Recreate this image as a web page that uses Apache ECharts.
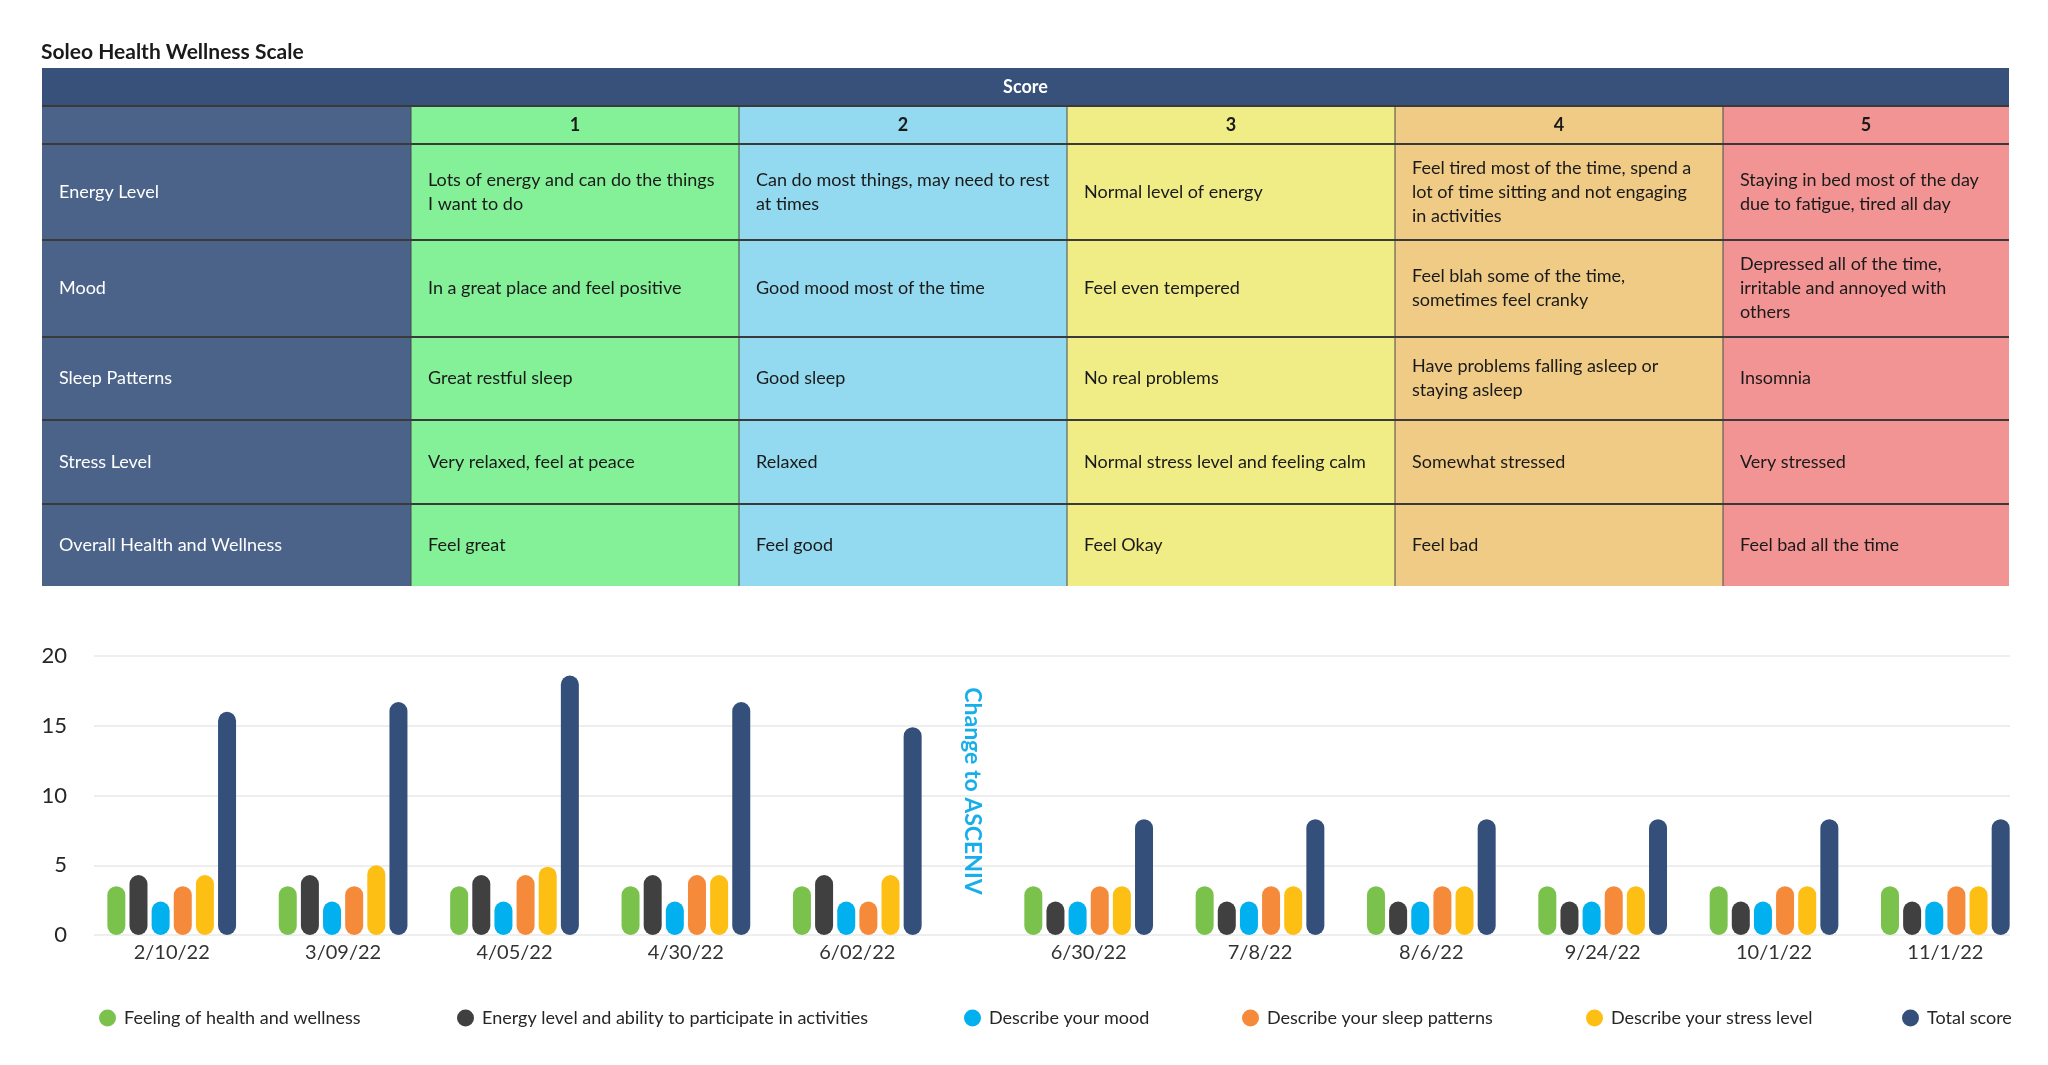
<!DOCTYPE html>
<html>
<head>
<meta charset="utf-8">
<title>Soleo Health Wellness Scale</title>
<script src="https://cdn.jsdelivr.net/npm/echarts@6/dist/echarts.min.js"></script>
<style>
  html, body { margin: 0; padding: 0; background: #fff; }
  #main { width: 2048px; height: 1065px; }
</style>
</head>
<body>
<div id="main"></div>
<script>
// ---- data ----
var dates = ['2/10/22', '3/09/22', '4/05/22', '4/30/22', '6/02/22',
             '6/30/22', '7/8/22', '8/6/22', '9/24/22', '10/1/22', '11/1/22'];
var changeAt = 5;   // first date after the switch
var changeLabel = 'Change to ASCENIV';

var health = [3.5, 3.5, 3.5, 3.5, 3.5, 3.5, 3.5, 3.5, 3.5, 3.5, 3.5];
var energy = [4.3, 4.3, 4.3, 4.3, 4.3, 2.4, 2.4, 2.4, 2.4, 2.4, 2.4];
var mood   = [2.4, 2.4, 2.4, 2.4, 2.4, 2.4, 2.4, 2.4, 2.4, 2.4, 2.4];
var sleep  = [3.5, 3.5, 4.3, 4.3, 2.4, 3.5, 3.5, 3.5, 3.5, 3.5, 3.5];
var stress = [4.3, 5.0, 4.9, 4.3, 4.3, 3.5, 3.5, 3.5, 3.5, 3.5, 3.5];
var total  = [16, 16.7, 18.6, 16.7, 14.9, 8.3, 8.3, 8.3, 8.3, 8.3, 8.3];

var seriesNames = ['Feeling of health and wellness',
                   'Energy level and ability to participate in activities',
                   'Describe your mood',
                   'Describe your sleep patterns',
                   'Describe your stress level',
                   'Total score'];
var seriesValues = [health, energy, mood, sleep, stress, total];
var seriesColors = ['#7bc24d', '#404040', '#00b0ef', '#f58a3b', '#fdbf14', '#34507a'];

var yTicks = [0, 5, 10, 15, 20];

// table
var tableTitle = 'Soleo Health Wellness Scale';
var scoreHeader = 'Score';
var scoreLevels = ['1', '2', '3', '4', '5'];
var rowLabels = ['Energy Level', 'Mood', 'Sleep Patterns', 'Stress Level', 'Overall Health and Wellness'];
var energyText = ['Lots of energy and can do the things\nI want to do',
                  'Can do most things, may need to rest\nat times',
                  'Normal level of energy',
                  'Feel tired most of the time, spend a\nlot of time sitting and not engaging\nin activities',
                  'Staying in bed most of the day\ndue to fatigue, tired all day'];
var moodText = ['In a great place and feel positive',
                'Good mood most of the time',
                'Feel even tempered',
                'Feel blah some of the time,\nsometimes feel cranky',
                'Depressed all of the time,\nirritable and annoyed with\nothers'];
var sleepText = ['Great restful sleep', 'Good sleep', 'No real problems',
                 'Have problems falling asleep or\nstaying asleep', 'Insomnia'];
var stressText = ['Very relaxed, feel at peace', 'Relaxed',
                  'Normal stress level and feeling calm', 'Somewhat stressed', 'Very stressed'];
var overallText = ['Feel great', 'Feel good', 'Feel Okay', 'Feel bad', 'Feel bad all the time'];
var cellTexts = [energyText, moodText, sleepText, stressText, overallText];

// ---- layout ----
var FONT = 'Lato, "Open Sans", sans-serif';
var colEdges = [42, 411, 739, 1067, 1395, 1723, 2009];
var rowEdges = [68, 106, 144, 240, 337, 420, 504, 586];
var levelColors = ['#84f198', '#93d9ef', '#f0ec86', '#efcb85', '#f39494'];
var headBlue = '#37517a';
var sideBlue = '#4b6388';

var graphics = [];
function rect(x, y, w, h, fill) {
  graphics.push({ type: 'rect', silent: true, shape: { x: x, y: y, width: w, height: h }, style: { fill: fill } });
}
function line(x1, y1, x2, y2, color, w) {
  graphics.push({ type: 'line', silent: true, shape: { x1: x1, y1: y1, x2: x2, y2: y2 }, style: { stroke: color, lineWidth: w } });
}
function text(x, y, str, opts) {
  graphics.push({
    type: 'text', silent: true, x: x, y: y, z: 10,
    style: Object.assign({
      text: str, fill: '#1a1a1a', fontSize: 18, fontFamily: FONT,
      align: 'left', verticalAlign: 'middle', lineHeight: 24
    }, opts || {})
  });
}

var tl = colEdges[0], tr = colEdges[colEdges.length - 1];
// score band
rect(tl, rowEdges[0], tr - tl, rowEdges[1] - rowEdges[0], headBlue);
text((tl + tr) / 2, (rowEdges[0] + rowEdges[1]) / 2, scoreHeader, { fill: '#fff', fontWeight: 'bold', align: 'center' });
// side column
rect(tl, rowEdges[1], colEdges[1] - tl, rowEdges[rowEdges.length - 1] - rowEdges[1], sideBlue);
// level columns
scoreLevels.forEach(function (lv, c) {
  var x0 = colEdges[c + 1], x1 = colEdges[c + 2];
  rect(x0, rowEdges[1], x1 - x0, rowEdges[rowEdges.length - 1] - rowEdges[1], levelColors[c]);
  text((x0 + x1) / 2, (rowEdges[1] + rowEdges[2]) / 2, lv, { fontWeight: 'bold', align: 'center' });
});
// rows
rowLabels.forEach(function (lab, r) {
  var yc = (rowEdges[r + 2] + rowEdges[r + 3]) / 2;
  text(tl + 17, yc, lab, { fill: '#fff' });
  cellTexts[r].forEach(function (s, c) {
    text(colEdges[c + 1] + 17, yc, s);
  });
});
// grid lines of the table
for (var i = 1; i < colEdges.length - 1; i++) {
  line(colEdges[i], rowEdges[1], colEdges[i], rowEdges[rowEdges.length - 1], '#4a4a4a', 1);
}
for (var j = 1; j < rowEdges.length - 1; j++) {
  line(tl, rowEdges[j], tr, rowEdges[j], '#3a3a3a', 2);
}

// change marker
text(972, 791, changeLabel, { fill: '#17aeea', fontWeight: 'bold', fontSize: 23, align: 'center' });
graphics[graphics.length - 1].rotation = -Math.PI / 2;

// ---- chart ----
var chart = echarts.init(document.getElementById('main'));

var series = [];
seriesNames.forEach(function (name, i) {
  [0, 1].forEach(function (part) {
    var vals = part === 0 ? seriesValues[i].slice(0, changeAt) : seriesValues[i].slice(changeAt);
    series.push({
      name: name,
      type: 'bar',
      xAxisIndex: part,
      yAxisIndex: part,
      data: vals,
      barWidth: 18,
      barGap: '23%',
      itemStyle: { color: seriesColors[i], borderRadius: 9 },
      emphasis: { disabled: true }
    });
  });
});

var legendLefts = [99, 457, 964, 1242, 1586, 1902];
var legends = seriesNames.map(function (name, i) {
  return {
    data: [name], left: legendLefts[i], top: 1009, padding: 0,
    icon: 'circle', itemWidth: 17, itemHeight: 17,
    textStyle: { fontSize: 18, color: '#262626', fontFamily: FONT, padding: [0, 0, 0, 3] }
  };
});

var plotTop = 656, plotH = 279;
var hiddenY = { type: 'value', min: 0, max: 20, show: false, splitLine: { show: false } };
var xCat = function (data) {
  return {
    type: 'category', data: data,
    axisLine: { show: false }, axisTick: { show: false },
    axisLabel: { fontSize: 20, color: '#333', fontFamily: FONT, margin: 8 }
  };
};

chart.setOption({
  animation: false,
  title: {
    text: tableTitle, left: 41, top: 42, padding: 0,
    textStyle: { fontSize: 21, fontWeight: 'bold', color: '#1a1a1a', fontFamily: FONT }
  },
  legend: legends,
  grid: [
    { left: 86, top: plotTop, width: 857, height: plotH },
    { left: 1003, top: plotTop, width: 1028, height: plotH },
    { left: 94, top: plotTop, width: 1916, height: plotH }
  ],
  xAxis: [
    xCat(dates.slice(0, changeAt)),
    xCat(dates.slice(changeAt)),
    { type: 'category', data: [''], show: false }
  ].map(function (ax, k) { ax.gridIndex = k; return ax; }),
  yAxis: [
    Object.assign({ gridIndex: 0 }, hiddenY),
    Object.assign({ gridIndex: 1 }, hiddenY),
    {
      gridIndex: 2, type: 'value', min: yTicks[0], max: yTicks[yTicks.length - 1], interval: 5,
      axisLine: { show: false }, axisTick: { show: false },
      axisLabel: { fontSize: 22, color: '#262626', fontFamily: FONT, margin: 27 },
      splitLine: { lineStyle: { color: '#e9e9e9', width: 1.5 } },
      z: 0
    }
  ],
  graphic: graphics,
  series: series
});
</script>
</body>
</html>
